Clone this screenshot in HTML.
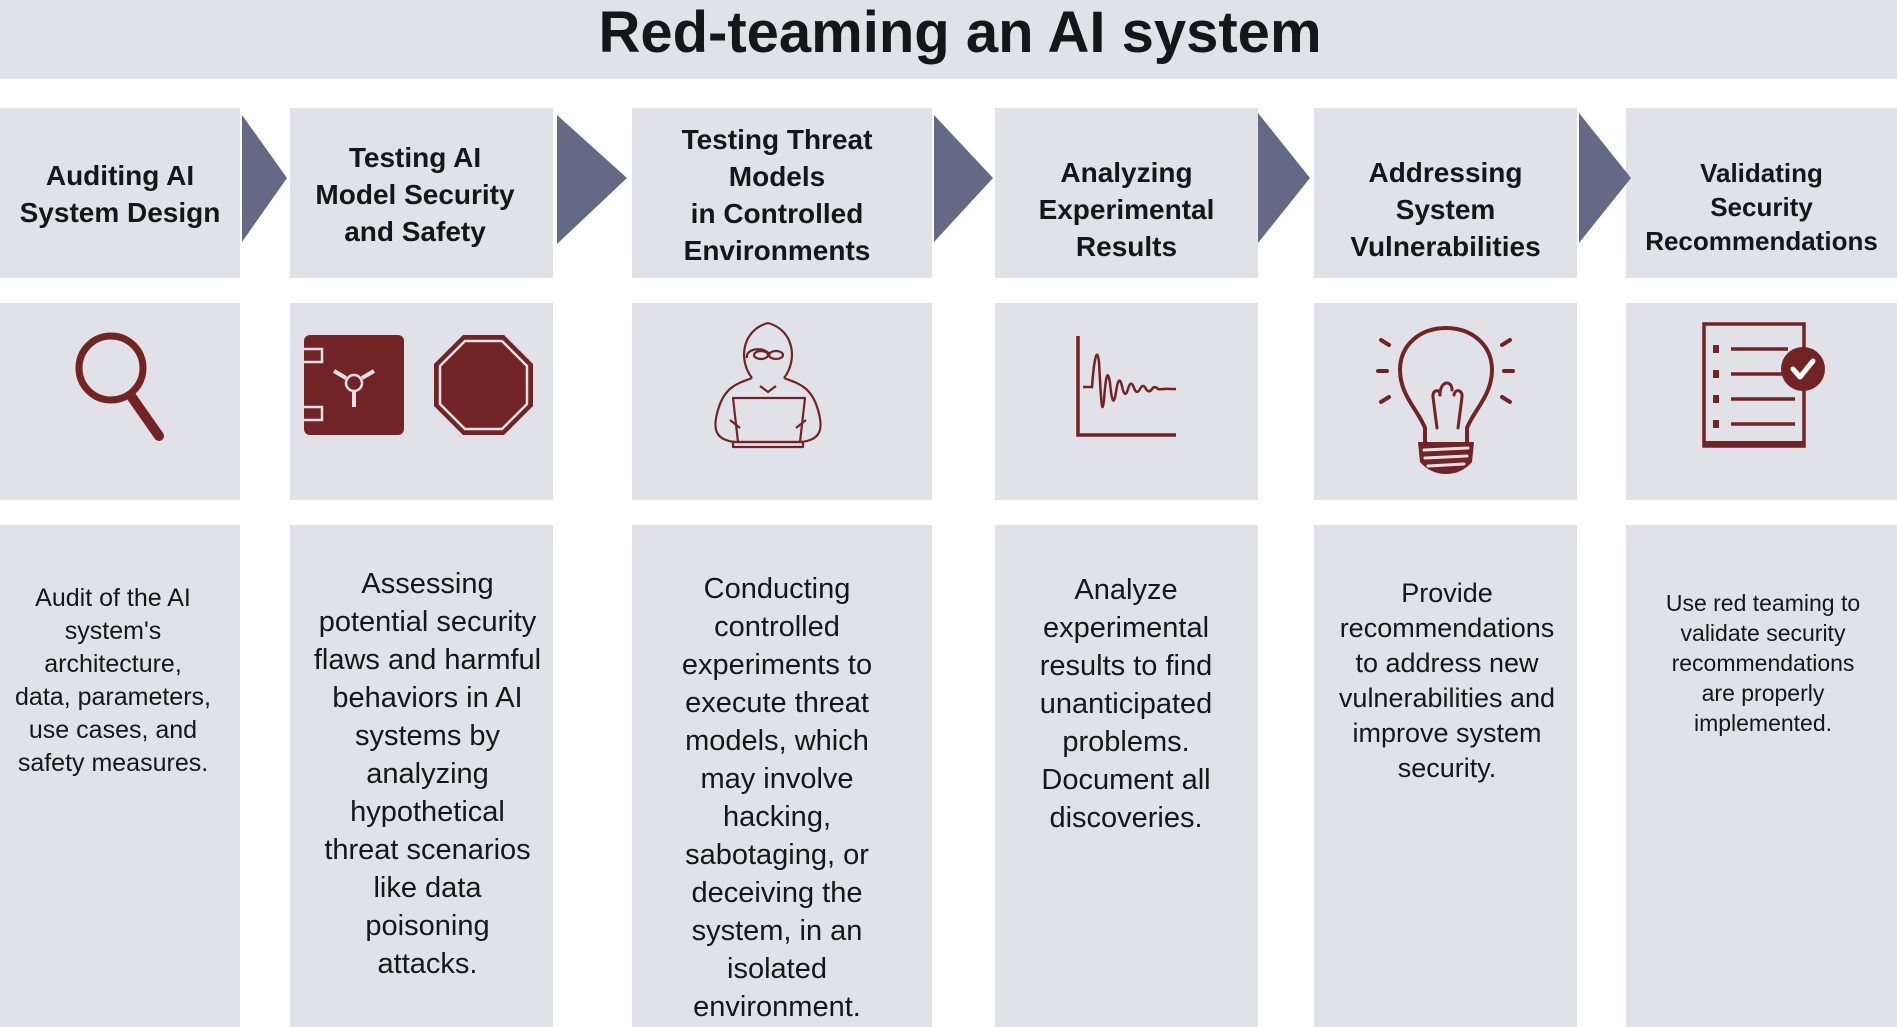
<!DOCTYPE html>
<html><head><meta charset="utf-8"><style>
body{margin:0;width:1897px;height:1027px;background:#fff;position:relative;overflow:hidden;font-family:"Liberation Sans",Arial,sans-serif;color:#111}
.b{position:absolute;background:#e1e2e7}
.t{position:absolute;text-align:center;white-space:nowrap}
.h{font-weight:bold;font-size:28px;line-height:37px;color:#15161a}
.d{color:#15161a}
svg{position:absolute;left:0;top:0}
</style></head><body>
<div class="b" style="left:0;top:0;width:1897px;height:79px"></div>
<div class="t" style="left:0;width:1920px;top:0;font-size:58px;font-weight:bold;line-height:66px;color:#15161a">Red-teaming an AI system</div>

<!-- row 1 -->
<div class="b" style="left:0;top:108px;width:240px;height:170px"></div>
<div class="b" style="left:290px;top:108px;width:263px;height:170px"></div>
<div class="b" style="left:632px;top:108px;width:300px;height:170px"></div>
<div class="b" style="left:995px;top:108px;width:263px;height:170px"></div>
<div class="b" style="left:1314px;top:108px;width:263px;height:170px"></div>
<div class="b" style="left:1626px;top:108px;width:271px;height:170px"></div>
<!-- row 2 -->
<div class="b" style="left:0;top:303px;width:240px;height:197px"></div>
<div class="b" style="left:290px;top:303px;width:263px;height:197px"></div>
<div class="b" style="left:632px;top:303px;width:300px;height:197px"></div>
<div class="b" style="left:995px;top:303px;width:263px;height:197px"></div>
<div class="b" style="left:1314px;top:303px;width:263px;height:197px"></div>
<div class="b" style="left:1626px;top:303px;width:271px;height:197px"></div>
<!-- row 3 -->
<div class="b" style="left:0;top:525px;width:240px;height:502px"></div>
<div class="b" style="left:290px;top:525px;width:263px;height:502px"></div>
<div class="b" style="left:632px;top:525px;width:300px;height:502px"></div>
<div class="b" style="left:995px;top:525px;width:263px;height:502px"></div>
<div class="b" style="left:1314px;top:525px;width:263px;height:502px"></div>
<div class="b" style="left:1626px;top:525px;width:271px;height:502px"></div>

<svg width="1897" height="1027">
<g fill="#646a85">
<polygon points="242,115 287,178 242,242"/>
<polygon points="557,115 627,178 557,244"/>
<polygon points="934,115 993,178 934,242"/>
<polygon points="1258,113 1310,178 1258,243"/>
<polygon points="1579,113 1631,178 1579,243"/>
</g>
<g fill="none" stroke="#722325" stroke-linecap="round">
<!-- magnifier -->
<circle cx="111" cy="368" r="32" stroke-width="7"/>
<line x1="131" y1="396" x2="159" y2="436" stroke-width="10"/>
</g>
<!-- safe -->
<rect x="304" y="335" width="100" height="100" rx="6" fill="#722325"/>
<g fill="none" stroke="#e1e2e7" stroke-width="2.5">
<rect x="302" y="349" width="20" height="13"/><rect x="302" y="407" width="20" height="13"/>
<circle cx="354" cy="383" r="8"/>
</g>
<g stroke="#e1e2e7" stroke-width="4"><line x1="354" y1="392" x2="354" y2="407"/><line x1="346" y1="378" x2="334" y2="371"/><line x1="362" y1="378" x2="374" y2="371"/></g>
<!-- octagon -->
<polygon points="463,335 504,335 533,364 533,406 504,435 463,435 434,406 434,364" fill="#722325"/>
<polygon points="465,341 502,341 527,366 527,404 502,429 465,429 440,404 440,366" fill="none" stroke="#e1e2e7" stroke-width="2.5"/>
<!-- hacker -->
<g fill="none" stroke="#722325" stroke-width="2.2" stroke-linejoin="round">
<path d="M752,378 C738,360 742,330 768,323 C794,330 798,360 784,378"/>
<path d="M752,378 C740,383 725,385 718,410 C712,430 716,440 735,442"/>
<path d="M784,378 C796,383 811,385 818,410 C824,430 820,440 801,442"/>
<path d="M747,358 C745,348 765,346 770,355" />
<ellipse cx="761" cy="355" rx="7" ry="4"/><ellipse cx="776" cy="355" rx="7" ry="4"/>
<path d="M760,386 L768,392 L776,386"/>
<path d="M733,398 L805,398 L800,442 L738,442 Z"/>
<rect x="733" y="442" width="70" height="5"/>
<path d="M730,420 L740,428 M806,420 L796,428"/>
</g>
<!-- graph -->
<g fill="none" stroke="#722325">
<path d="M1078,336 L1078,435 L1176,435" stroke-width="3.5"/>
<path d="M1083,387 L1092,387 C1094,360 1097,345 1099,362 C1101,400 1102,418 1104,400 C1106,372 1108,370 1110,383 C1112,404 1114,405 1116,392 C1118,378 1120,378 1122,386 C1124,396 1126,396 1128,389 C1130,382 1132,382 1134,388 C1136,393 1138,393 1140,389 C1142,385 1144,385 1146,389 C1148,392 1150,392 1152,389 C1154,386 1156,387 1158,389 C1162,390 1166,388 1170,389 L1176,389" stroke-width="2.5"/>
</g>
<!-- bulb -->
<g fill="none" stroke="#722325" stroke-width="4" stroke-linecap="round">
<path d="M1425,442 L1425,428 C1418,410 1400,395 1400,370 C1400,345 1420,328 1446,328 C1472,328 1492,345 1492,370 C1492,395 1474,410 1467,428 L1467,442"/>
<path d="M1437,428 L1433,397 C1432,390 1440,388 1440,395 M1458,428 L1462,397 C1463,390 1455,388 1454,395" stroke-width="3"/>
<path d="M1440,395 C1440,380 1452,380 1452,390" stroke-width="3"/>
<line x1="1378" y1="371" x2="1387" y2="371"/><line x1="1504" y1="371" x2="1513" y2="371"/>
<line x1="1381" y1="340" x2="1389" y2="345"/><line x1="1510" y1="340" x2="1502" y2="345"/>
<line x1="1381" y1="402" x2="1389" y2="397"/><line x1="1510" y1="402" x2="1502" y2="397"/>
</g>
<path d="M1418,442 L1474,442 L1472,462 C1465,470 1456,474 1446,474 C1436,474 1427,470 1420,462 Z" fill="#722325"/>
<g stroke="#e1e2e7" stroke-width="3" stroke-linecap="round"><line x1="1424" y1="450" x2="1468" y2="448"/><line x1="1425" y1="458" x2="1467" y2="456"/><line x1="1428" y1="466" x2="1464" y2="464"/></g>
<!-- checklist -->
<g fill="none" stroke="#722325">
<path d="M1704,324 L1804,324 L1804,446 L1704,446 Z" stroke-width="3.5"/>
<line x1="1704" y1="444" x2="1804" y2="444" stroke-width="6"/>
<g stroke-width="3.5"><line x1="1731" y1="349" x2="1788" y2="349"/><line x1="1731" y1="374" x2="1795" y2="374"/><line x1="1731" y1="399" x2="1795" y2="399"/><line x1="1731" y1="424" x2="1795" y2="424"/></g>
</g>
<g fill="#722325"><rect x="1713" y="345" width="6" height="8"/><rect x="1713" y="370" width="6" height="8"/><rect x="1713" y="395" width="6" height="8"/><rect x="1713" y="420" width="6" height="8"/></g>
<circle cx="1803" cy="369" r="22" fill="#722325"/>
<path d="M1793,369 L1800,377 L1813,361" fill="none" stroke="#fff" stroke-width="5" stroke-linecap="round" stroke-linejoin="round"/>
</svg>

<!-- headers -->
<div class="t h" style="left:0;width:240px;top:157px">Auditing AI<br>System Design</div>
<div class="t h" style="left:290px;width:250px;top:139px">Testing AI<br>Model Security<br>and Safety</div>
<div class="t h" style="left:632px;width:290px;top:121px">Testing Threat<br>Models<br>in Controlled<br>Environments</div>
<div class="t h" style="left:995px;width:263px;top:154px">Analyzing<br>Experimental<br>Results</div>
<div class="t h" style="left:1314px;width:263px;top:154px">Addressing<br>System<br>Vulnerabilities</div>
<div class="t h" style="left:1626px;width:271px;top:156px;font-size:26px;line-height:34px">Validating<br>Security<br>Recommendations</div>

<!-- descriptions -->
<div class="t d" style="left:0;width:226px;top:582px;font-size:25px;line-height:33px">Audit of the AI<br>system's<br>architecture,<br>data, parameters,<br>use cases, and<br>safety measures.</div>
<div class="t d" style="left:290px;width:275px;top:565px;font-size:29px;line-height:38px">Assessing<br>potential security<br>flaws and harmful<br>behaviors in AI<br>systems by<br>analyzing<br>hypothetical<br>threat scenarios<br>like data<br>poisoning<br>attacks.</div>
<div class="t d" style="left:632px;width:290px;top:570px;font-size:29px;line-height:38px">Conducting<br>controlled<br>experiments to<br>execute threat<br>models, which<br>may involve<br>hacking,<br>sabotaging, or<br>deceiving the<br>system, in an<br>isolated<br>environment.</div>
<div class="t d" style="left:995px;width:262px;top:571px;font-size:29px;line-height:38px">Analyze<br>experimental<br>results to find<br>unanticipated<br>problems.<br>Document all<br>discoveries.</div>
<div class="t d" style="left:1314px;width:266px;top:576px;font-size:27px;line-height:35px">Provide<br>recommendations<br>to address new<br>vulnerabilities and<br>improve system<br>security.</div>
<div class="t d" style="left:1626px;width:274px;top:588px;font-size:23px;line-height:30px">Use red teaming to<br>validate security<br>recommendations<br>are properly<br>implemented.</div>
</body></html>
